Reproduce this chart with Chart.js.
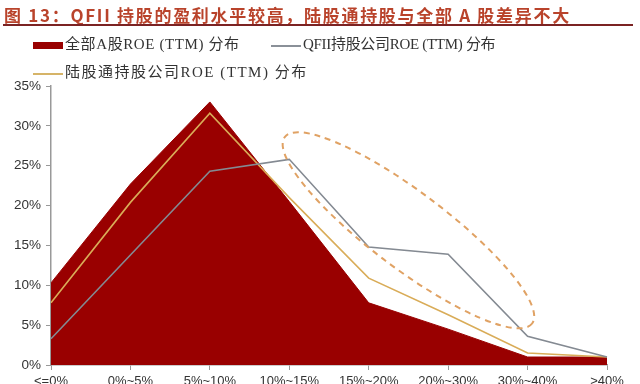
<!DOCTYPE html>
<html>
<head>
<meta charset="utf-8">
<script src="https://cdn.jsdelivr.net/npm/chart.js@4/dist/chart.umd.min.js"></script>
<style>
  html, body { margin: 0; padding: 0; background: #fff; overflow: hidden; }
  #wrap { position: relative; width: 640px; height: 384px; }
  canvas { position: absolute; left: 0; top: 0; }
  .title { position: absolute; left: 4px; top: 2px; font: bold 17px "Noto Sans CJK SC", "Liberation Sans", sans-serif; color: #b9432b; white-space: nowrap; letter-spacing: 1.7px; }
  .rule { position: absolute; left: 3px; top: 24px; width: 630px; height: 2px; background: #7b2323; }
  .leg { position: absolute; font: 15px "Liberation Serif", "Noto Sans CJK SC", serif; color: #333; white-space: nowrap; line-height: 18px; }
  .sw { display: inline-block; vertical-align: middle; margin-right: 2px; width: 30px; }
</style>
</head>
<body>
<div id="wrap">
  <canvas id="c" width="640" height="384"></canvas>
  <div class="title">图 13：QFII 持股的盈利水平较高，陆股通持股与全部 A 股差异不大</div>
  <div class="rule"></div>
  <div class="leg" style="left:33px;top:35px;letter-spacing:0.6px"><span class="sw" style="height:7px;background:#990000"></span>全部A股ROE (TTM) 分布</div>
  <div class="leg" style="left:271px;top:35px;letter-spacing:-0.3px"><span class="sw" style="height:2px;background:#8a9098"></span>QFII持股公司ROE (TTM) 分布</div>
  <div class="leg" style="left:33px;top:63px;letter-spacing:1.5px"><span class="sw" style="height:2px;background:#d6b468"></span>陆股通持股公司ROE (TTM) 分布</div>
</div>
<script>
const categories = ["<=0%", "0%~5%", "5%~10%", "10%~15%", "15%~20%", "20%~30%", "30%~40%", ">40%"];
const allA = [10.3, 22.7, 33.0, 20.5, 7.8, 4.5, 1.0, 1.0];
const qfii = [3.3, 13.8, 24.3, 25.8, 14.8, 13.9, 3.6, 1.0];
const hkConnect = [7.8, 20.4, 31.6, 21.0, 10.9, 6.3, 1.5, 1.0];
const yTicks = [0, 5, 10, 15, 20, 25, 30, 35];

// dashed ellipse around the QFII gap, placed in axis units
const ellipsePlugin = {
  id: 'ellipse',
  afterDatasetsDraw(chart) {
    const x = chart.scales.x, y = chart.scales.y, ctx = chart.ctx;
    const cx = x.getPixelForValue(4.5), cy = y.getPixelForValue(16.9);
    const unit = x.getPixelForValue(1) - x.getPixelForValue(0);
    ctx.save();
    ctx.strokeStyle = '#e0a264';
    ctx.lineWidth = 2;
    ctx.setLineDash([6, 5]);
    ctx.beginPath();
    ctx.ellipse(cx, cy, unit * 1.95, unit * 0.48, 37 * Math.PI / 180, 0, Math.PI * 2);
    ctx.stroke();
    ctx.restore();
  }
};

new Chart(document.getElementById('c'), {
  type: 'line',
  data: {
    labels: categories,
    datasets: [
      { label: 'QFII持股公司ROE (TTM) 分布', data: qfii, borderColor: '#848a92', borderWidth: 1.6, pointRadius: 0, fill: false, tension: 0, order: 1 },
      { label: '陆股通持股公司ROE (TTM) 分布', data: hkConnect, borderColor: '#d9ac58', borderWidth: 1.6, pointRadius: 0, fill: false, tension: 0, order: 2 },
      { label: '全部A股ROE (TTM) 分布', data: allA, borderColor: '#990000', backgroundColor: '#990000', borderWidth: 1, pointRadius: 0, fill: 'origin', tension: 0, order: 3 }
    ]
  },
  options: {
    responsive: false,
    animation: false,
    layout: { padding: { top: 86, right: 33, left: 0, bottom: 0 } },
    plugins: { legend: { display: false }, tooltip: { enabled: false } },
    scales: {
      x: {
        offset: false,
        grid: { display: true, drawOnChartArea: false, tickLength: 5, color: '#999' },
        border: { color: '#999', width: 1.5 },
        ticks: { color: '#333', font: { family: 'Liberation Sans', size: 13 }, padding: 4, maxRotation: 0, autoSkip: false },
        afterFit(s) { s.height = 19; }
      },
      y: {
        min: 0, max: 35,
        afterBuildTicks(s) { s.ticks = yTicks.map(v => ({ value: v })); },
        grid: { display: true, drawOnChartArea: false, tickLength: 5, color: '#999' },
        border: { color: '#999', width: 1.5 },
        ticks: { color: '#333', font: { family: 'Liberation Sans', size: 13.5 }, padding: 5, callback: v => v + '%' },
        afterFit(s) { s.width = 51; }
      }
    }
  },
  plugins: [ellipsePlugin]
});
</script>
</body>
</html>
